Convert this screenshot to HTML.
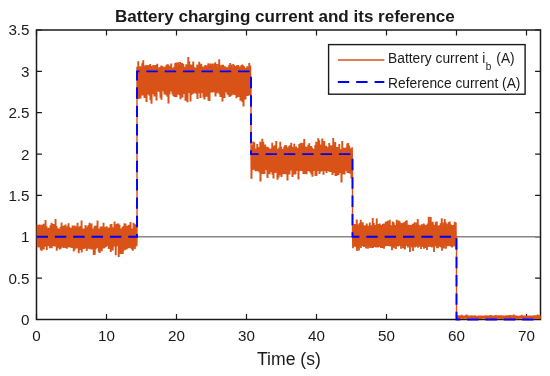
<!DOCTYPE html><html><head><meta charset="utf-8"><title>Battery charging current</title>
<style>html,body{margin:0;padding:0;background:#fff}svg{display:block}text{font-family:"Liberation Sans",Arial,sans-serif;fill:#1a1a1a}</style></head><body>
<svg width="550" height="376" viewBox="0 0 550 376">
<rect width="550" height="376" fill="#fff"/>
<rect x="36.5" y="30.0" width="504.0" height="289.5" fill="none" stroke="#1a1a1a" stroke-width="1.5"/>
<path d="M36.5 319.5 v-5.4 M36.5 30.0 v5.4 M106.5 319.5 v-5.4 M106.5 30.0 v5.4 M176.5 319.5 v-5.4 M176.5 30.0 v5.4 M246.5 319.5 v-5.4 M246.5 30.0 v5.4 M316.5 319.5 v-5.4 M316.5 30.0 v5.4 M386.5 319.5 v-5.4 M386.5 30.0 v5.4 M456.5 319.5 v-5.4 M456.5 30.0 v5.4 M526.5 319.5 v-5.4 M526.5 30.0 v5.4 M36.5 319.5 h5.4 M540.5 319.5 h-5.4 M36.5 278.1 h5.4 M540.5 278.1 h-5.4 M36.5 236.8 h5.4 M540.5 236.8 h-5.4 M36.5 195.4 h5.4 M540.5 195.4 h-5.4 M36.5 154.1 h5.4 M540.5 154.1 h-5.4 M36.5 112.7 h5.4 M540.5 112.7 h-5.4 M36.5 71.4 h5.4 M540.5 71.4 h-5.4 M36.5 30.0 h5.4 M540.5 30.0 h-5.4" stroke="#1a1a1a" stroke-width="1.2" fill="none"/>
<line x1="37.5" y1="236.8" x2="539.8" y2="236.8" stroke="#868686" stroke-width="1.4"/>
<path d="M37.3 237.3 L37.3 224.8 L37.5 247.1 L37.8 224.8 L38.0 247.1 L38.3 225.6 L38.5 247.6 L38.8 225.6 L39.0 247.6 L39.3 224.4 L39.5 245.8 L39.8 224.4 L40.0 245.8 L40.3 227.3 L40.5 249.9 L40.8 227.3 L41.0 249.9 L41.3 224.8 L41.5 250.7 L41.8 224.8 L42.0 250.7 L42.3 226.6 L42.5 247.4 L42.8 226.6 L43.0 247.4 L43.3 223.7 L43.5 249.5 L43.8 223.7 L44.0 249.5 L44.3 228.7 L44.5 246.6 L44.8 228.7 L45.0 246.6 L45.3 220.1 L45.5 246.7 L45.8 220.1 L46.0 246.7 L46.3 226.3 L46.5 250.1 L46.8 226.3 L47.0 250.1 L47.3 228.7 L47.5 246.1 L47.8 228.7 L48.0 246.1 L48.3 227.8 L48.5 245.8 L48.8 227.8 L49.0 245.8 L49.3 228.1 L49.5 248.3 L49.8 228.1 L50.0 248.3 L50.3 225.2 L50.5 246.4 L50.8 225.2 L51.0 246.4 L51.3 222.8 L51.5 248.3 L51.8 222.8 L52.0 248.3 L52.3 224.1 L52.5 246.2 L52.8 224.1 L53.0 246.2 L53.3 223.9 L53.5 245.6 L53.8 223.9 L54.0 245.6 L54.3 226.3 L54.5 246.4 L54.8 226.3 L55.0 246.4 L55.3 218.9 L55.5 245.7 L55.8 218.9 L56.0 245.7 L56.3 226.1 L56.5 250.8 L56.8 226.1 L57.0 250.8 L57.3 228.0 L57.5 248.2 L57.8 228.0 L58.0 248.2 L58.3 228.7 L58.5 247.0 L58.8 228.7 L59.0 247.0 L59.3 228.7 L59.5 249.5 L59.8 228.7 L60.0 249.5 L60.3 227.1 L60.5 248.8 L60.8 227.1 L61.0 248.8 L61.3 222.5 L61.5 247.6 L61.8 222.5 L62.0 247.6 L62.3 226.6 L62.5 245.6 L62.8 226.6 L63.0 245.6 L63.3 225.7 L63.5 247.9 L63.8 225.7 L64.0 247.9 L64.3 225.5 L64.5 246.0 L64.8 225.5 L65.0 246.0 L65.3 224.6 L65.5 248.0 L65.8 224.6 L66.0 248.0 L66.3 228.5 L66.5 248.7 L66.8 228.5 L67.0 248.7 L67.3 226.3 L67.5 247.4 L67.8 226.3 L68.0 247.4 L68.3 223.3 L68.5 247.1 L68.8 223.3 L69.0 247.1 L69.3 227.1 L69.5 247.6 L69.8 227.1 L70.0 247.6 L70.3 228.0 L70.5 246.4 L70.8 228.0 L71.0 246.4 L71.3 228.4 L71.5 247.9 L71.8 228.4 L72.0 247.9 L72.3 225.5 L72.5 247.1 L72.8 225.5 L73.0 247.1 L73.3 227.0 L73.5 251.6 L73.8 227.0 L74.0 251.6 L74.3 225.6 L74.5 249.7 L74.8 225.6 L75.0 249.7 L75.3 226.3 L75.5 248.3 L75.8 226.3 L76.0 248.3 L76.3 228.4 L76.5 248.6 L76.8 228.4 L77.0 248.6 L77.3 222.8 L77.5 246.9 L77.8 222.8 L78.0 246.9 L78.3 226.6 L78.5 253.3 L78.8 226.6 L79.0 253.3 L79.3 228.2 L79.5 249.4 L79.8 228.2 L80.0 249.4 L80.3 226.0 L80.5 250.1 L80.8 226.0 L81.0 250.1 L81.3 220.6 L81.5 252.6 L81.8 220.6 L82.0 252.6 L82.3 228.4 L82.5 248.5 L82.8 228.4 L83.0 248.5 L83.3 228.6 L83.5 249.1 L83.8 228.6 L84.0 249.1 L84.3 228.6 L84.5 247.0 L84.8 228.6 L85.0 247.0 L85.3 225.1 L85.5 248.4 L85.8 225.1 L86.0 248.4 L86.3 228.8 L86.5 250.9 L86.8 228.8 L87.0 250.9 L87.3 226.4 L87.5 248.7 L87.8 226.4 L88.0 248.7 L88.3 225.1 L88.5 246.7 L88.8 225.1 L89.0 246.7 L89.3 222.8 L89.5 249.2 L89.8 222.8 L90.0 249.2 L90.3 228.2 L90.5 247.6 L90.8 228.2 L91.0 247.6 L91.3 223.6 L91.5 249.5 L91.8 223.6 L92.0 249.5 L92.3 229.0 L92.5 248.1 L92.8 229.0 L93.0 248.1 L93.3 228.5 L93.5 255.0 L93.8 228.5 L94.0 255.0 L94.3 226.2 L94.5 254.7 L94.8 226.2 L95.0 254.7 L95.3 225.5 L95.5 249.2 L95.8 225.5 L96.0 249.2 L96.3 227.6 L96.5 246.4 L96.8 227.6 L97.0 246.4 L97.3 220.4 L97.5 248.0 L97.8 220.4 L98.0 248.0 L98.3 228.6 L98.5 251.7 L98.8 228.6 L99.0 251.7 L99.3 228.7 L99.5 252.9 L99.8 228.7 L100.0 252.9 L100.3 226.6 L100.5 247.4 L100.8 226.6 L101.0 247.4 L101.3 226.5 L101.5 251.2 L101.8 226.5 L102.0 251.2 L102.3 226.7 L102.5 246.8 L102.8 226.7 L103.0 246.8 L103.3 222.7 L103.5 248.4 L103.8 222.7 L104.0 248.4 L104.3 226.9 L104.5 247.7 L104.8 226.9 L105.0 247.7 L105.3 227.0 L105.5 246.9 L105.8 227.0 L106.0 246.9 L106.3 226.3 L106.5 245.9 L106.8 226.3 L107.0 245.9 L107.3 227.9 L107.5 246.0 L107.8 227.9 L108.0 246.0 L108.3 227.5 L108.5 249.0 L108.8 227.5 L109.0 249.0 L109.3 227.4 L109.5 246.5 L109.8 227.4 L110.0 246.5 L110.3 224.3 L110.5 251.9 L110.8 224.3 L111.0 251.9 L111.3 224.0 L111.5 246.3 L111.8 224.0 L112.0 246.3 L112.3 227.3 L112.5 250.5 L112.8 227.3 L113.0 250.5 L113.3 228.4 L113.5 246.4 L113.8 228.4 L114.0 246.4 L114.3 221.4 L114.5 246.5 L114.8 221.4 L115.0 246.5 L115.3 226.3 L115.5 255.3 L115.8 226.3 L116.0 255.3 L116.3 224.1 L116.5 246.3 L116.8 224.1 L117.0 246.3 L117.3 223.4 L117.5 246.3 L117.8 223.4 L118.0 246.3 L118.3 223.4 L118.5 257.1 L118.8 223.4 L119.0 257.1 L119.3 225.1 L119.5 247.8 L119.8 225.1 L120.0 247.8 L120.3 228.4 L120.5 254.0 L120.8 228.4 L121.0 254.0 L121.3 228.6 L121.5 251.7 L121.8 228.6 L122.0 251.7 L122.3 226.9 L122.5 254.0 L122.8 226.9 L123.0 254.0 L123.3 225.9 L123.5 250.4 L123.8 225.9 L124.0 250.4 L124.3 223.3 L124.5 250.2 L124.8 223.3 L125.0 250.2 L125.3 223.7 L125.5 249.0 L125.8 223.7 L126.0 249.0 L126.3 226.0 L126.5 249.5 L126.8 226.0 L127.0 249.5 L127.3 226.6 L127.5 248.3 L127.8 226.6 L128.1 248.3 L128.3 224.9 L128.6 248.3 L128.8 224.9 L129.1 248.3 L129.3 224.7 L129.6 248.3 L129.8 224.7 L130.1 248.3 L130.3 221.9 L130.6 245.9 L130.8 221.9 L131.1 245.9 L131.3 228.5 L131.6 249.5 L131.8 228.5 L132.1 249.5 L132.3 228.6 L132.6 250.8 L132.8 228.6 L133.1 250.8 L133.3 222.8 L133.6 248.3 L133.8 222.8 L134.1 248.3 L134.3 224.0 L134.6 248.9 L134.8 224.0 L135.1 248.9 L135.3 224.4 L135.6 246.6 L135.8 224.4 L136.1 246.6 L136.3 226.5 L136.5 245.9 L136.7 226.5 L136.8 245.9 L137.0 237.3 L137.0 79.6 L137.0 66.7 L137.2 96.9 L137.5 66.7 L137.8 96.9 L138.0 61.3 L138.2 98.9 L138.5 61.3 L138.8 98.9 L139.0 68.3 L139.2 91.8 L139.5 68.3 L139.8 91.8 L140.0 66.3 L140.2 98.6 L140.5 66.3 L140.8 98.6 L141.0 67.6 L141.2 94.1 L141.5 67.6 L141.8 94.1 L142.0 63.3 L142.2 95.4 L142.5 63.3 L142.8 95.4 L143.0 60.2 L143.2 95.0 L143.5 60.2 L143.8 95.0 L144.0 65.4 L144.2 98.0 L144.5 65.4 L144.8 98.0 L145.0 66.9 L145.2 96.4 L145.5 66.9 L145.8 96.4 L146.0 65.1 L146.2 102.1 L146.5 65.1 L146.8 102.1 L147.0 65.3 L147.2 94.6 L147.5 65.3 L147.8 94.6 L148.0 65.2 L148.2 93.3 L148.5 65.2 L148.8 93.3 L149.0 65.1 L149.2 95.7 L149.5 65.1 L149.8 95.7 L150.0 64.1 L150.2 99.9 L150.5 64.1 L150.8 99.9 L151.0 65.9 L151.2 103.7 L151.5 65.9 L151.8 103.7 L152.0 67.9 L152.2 94.2 L152.5 67.9 L152.8 94.2 L153.0 65.1 L153.2 92.3 L153.5 65.1 L153.8 92.3 L154.0 67.3 L154.2 96.4 L154.5 67.3 L154.8 96.4 L155.0 64.9 L155.2 95.4 L155.5 64.9 L155.8 95.4 L156.0 65.1 L156.2 100.4 L156.5 65.1 L156.8 100.4 L157.0 63.8 L157.2 91.6 L157.5 63.8 L157.8 91.6 L158.0 67.4 L158.2 91.6 L158.5 67.4 L158.8 91.6 L159.0 67.5 L159.2 92.1 L159.5 67.5 L159.8 92.1 L160.0 66.9 L160.2 97.7 L160.5 66.9 L160.8 97.7 L161.0 65.6 L161.2 99.8 L161.5 65.6 L161.8 99.8 L162.0 66.1 L162.2 91.3 L162.5 66.1 L162.8 91.3 L163.0 67.4 L163.2 91.3 L163.5 67.4 L163.8 91.3 L164.0 66.8 L164.2 94.4 L164.5 66.8 L164.8 94.4 L165.0 67.5 L165.2 92.3 L165.5 67.5 L165.8 92.3 L166.0 65.2 L166.2 95.2 L166.5 65.2 L166.8 95.2 L167.0 64.2 L167.2 96.7 L167.5 64.2 L167.8 96.7 L168.0 64.6 L168.2 103.6 L168.5 64.6 L168.8 103.6 L169.0 67.2 L169.2 94.2 L169.5 67.2 L169.8 94.2 L170.0 65.7 L170.2 91.5 L170.5 65.7 L170.8 91.5 L171.0 63.6 L171.2 91.4 L171.5 63.6 L171.8 91.4 L172.0 67.7 L172.2 94.3 L172.5 67.7 L172.8 94.3 L173.0 67.8 L173.2 95.9 L173.5 67.8 L173.8 95.9 L174.0 66.7 L174.2 97.1 L174.5 66.7 L174.8 97.1 L175.0 63.1 L175.2 96.9 L175.5 63.1 L175.8 96.9 L176.0 62.5 L176.2 96.9 L176.5 62.5 L176.8 96.9 L177.0 66.8 L177.2 92.2 L177.5 66.8 L177.8 92.2 L178.0 62.3 L178.2 94.5 L178.5 62.3 L178.8 94.5 L179.0 65.2 L179.2 95.3 L179.5 65.2 L179.8 95.3 L180.0 61.9 L180.2 99.3 L180.5 61.9 L180.8 99.3 L181.0 64.5 L181.2 95.8 L181.5 64.5 L181.8 95.8 L182.0 62.9 L182.2 97.6 L182.5 62.9 L182.8 97.6 L183.0 64.0 L183.2 93.0 L183.5 64.0 L183.8 93.0 L184.0 66.7 L184.2 93.9 L184.5 66.7 L184.8 93.9 L185.0 67.0 L185.2 100.7 L185.5 67.0 L185.8 100.7 L186.0 64.2 L186.2 97.6 L186.5 64.2 L186.8 97.6 L187.0 66.3 L187.2 102.2 L187.5 66.3 L187.8 102.2 L188.0 57.0 L188.2 92.8 L188.5 57.0 L188.8 92.8 L189.0 61.2 L189.2 93.1 L189.5 61.2 L189.8 93.1 L190.0 64.4 L190.2 101.6 L190.5 64.4 L190.8 101.6 L191.0 65.9 L191.2 94.9 L191.5 65.9 L191.8 94.9 L192.0 64.4 L192.2 93.8 L192.5 64.4 L192.8 93.8 L193.0 61.6 L193.2 93.8 L193.5 61.6 L193.8 93.8 L194.0 67.3 L194.2 91.1 L194.5 67.3 L194.8 91.1 L195.0 67.8 L195.2 92.8 L195.5 67.8 L195.8 92.8 L196.0 67.5 L196.2 94.1 L196.5 67.5 L196.8 94.1 L197.0 64.6 L197.2 99.1 L197.5 64.6 L197.8 99.1 L198.0 66.8 L198.2 93.3 L198.5 66.8 L198.8 93.3 L199.0 61.7 L199.2 91.9 L199.5 61.7 L199.8 91.9 L200.0 64.9 L200.2 97.9 L200.5 64.9 L200.8 97.9 L201.0 63.8 L201.2 93.1 L201.5 63.8 L201.8 93.1 L202.0 66.6 L202.2 91.7 L202.5 66.6 L202.8 91.7 L203.0 67.4 L203.2 97.4 L203.5 67.4 L203.8 97.4 L204.0 66.6 L204.2 99.4 L204.5 66.6 L204.8 99.4 L205.0 65.1 L205.2 96.0 L205.5 65.1 L205.8 96.0 L206.0 65.4 L206.2 96.7 L206.5 65.4 L206.8 96.7 L207.0 66.8 L207.2 95.8 L207.5 66.8 L207.8 95.8 L208.0 63.3 L208.2 100.5 L208.5 63.3 L208.8 100.5 L209.0 66.2 L209.2 101.1 L209.5 66.2 L209.8 101.1 L210.0 63.4 L210.2 92.3 L210.5 63.4 L210.8 92.3 L211.0 65.8 L211.2 92.6 L211.5 65.8 L211.8 92.6 L212.0 63.5 L212.2 92.4 L212.5 63.5 L212.8 92.4 L213.0 67.5 L213.2 91.7 L213.5 67.5 L213.8 91.7 L214.0 63.4 L214.2 92.2 L214.5 63.4 L214.8 92.2 L215.0 62.3 L215.2 96.6 L215.5 62.3 L215.8 96.6 L216.0 63.9 L216.2 93.4 L216.5 63.9 L216.8 93.4 L217.0 67.7 L217.2 92.8 L217.5 67.7 L217.8 92.8 L218.0 64.1 L218.2 92.3 L218.5 64.1 L218.8 92.3 L219.0 59.3 L219.2 94.2 L219.5 59.3 L219.8 94.2 L220.0 67.7 L220.2 97.0 L220.5 67.7 L220.8 97.0 L221.0 65.2 L221.2 95.1 L221.5 65.2 L221.8 95.1 L222.0 64.7 L222.2 101.5 L222.5 64.7 L222.8 101.5 L223.0 64.7 L223.2 91.7 L223.5 64.7 L223.8 91.7 L224.0 66.2 L224.2 97.9 L224.5 66.2 L224.8 97.9 L225.0 66.4 L225.2 92.2 L225.5 66.4 L225.8 92.2 L226.0 68.1 L226.2 92.1 L226.5 68.1 L226.8 92.1 L227.0 67.3 L227.2 94.6 L227.5 67.3 L227.8 94.6 L228.0 66.9 L228.2 95.3 L228.5 66.9 L228.8 95.3 L229.0 64.8 L229.2 96.9 L229.5 64.8 L229.8 96.9 L230.0 63.0 L230.2 96.3 L230.5 63.0 L230.8 96.3 L231.0 64.8 L231.2 95.4 L231.5 64.8 L231.8 95.4 L232.0 68.3 L232.2 94.5 L232.5 68.3 L232.8 94.5 L233.0 63.9 L233.2 92.1 L233.5 63.9 L233.8 92.1 L234.0 65.3 L234.2 94.9 L234.5 65.3 L234.8 94.9 L235.0 65.9 L235.2 91.5 L235.5 65.9 L235.8 91.5 L236.0 66.6 L236.2 98.2 L236.5 66.6 L236.8 98.2 L237.0 65.0 L237.2 96.0 L237.5 65.0 L237.8 96.0 L238.0 64.9 L238.2 96.9 L238.5 64.9 L238.8 96.9 L239.0 66.4 L239.2 94.0 L239.5 66.4 L239.8 94.0 L240.0 67.9 L240.2 100.8 L240.5 67.9 L240.8 100.8 L241.0 65.3 L241.2 93.6 L241.5 65.3 L241.8 93.6 L242.0 64.6 L242.2 102.1 L242.5 64.6 L242.8 102.1 L243.0 65.4 L243.2 106.6 L243.5 65.4 L243.8 106.6 L244.0 66.6 L244.2 92.8 L244.5 66.6 L244.8 92.8 L245.0 67.9 L245.2 99.6 L245.5 67.9 L245.8 99.6 L246.0 68.2 L246.2 93.4 L246.5 68.2 L246.8 93.4 L247.0 66.2 L247.2 95.9 L247.5 66.2 L247.8 95.9 L248.0 67.8 L248.2 93.7 L248.5 67.8 L248.8 93.7 L249.0 63.1 L249.2 95.6 L249.5 63.1 L249.8 95.6 L250.0 65.5 L250.2 91.4 L250.5 65.5 L250.8 91.4 L251.0 79.6 L251.0 159.4 L251.0 145.2 L251.2 178.8 L251.5 145.2 L251.8 178.8 L252.0 147.1 L252.2 170.0 L252.5 147.1 L252.8 170.0 L253.0 141.6 L253.2 169.8 L253.5 141.6 L253.8 169.8 L254.0 142.3 L254.2 169.7 L254.5 142.3 L254.8 169.7 L255.0 148.7 L255.2 171.2 L255.5 148.7 L255.8 171.2 L256.0 148.4 L256.2 170.3 L256.5 148.4 L256.8 170.3 L257.0 144.1 L257.2 171.3 L257.5 144.1 L257.8 171.3 L258.0 147.0 L258.2 170.6 L258.5 147.0 L258.8 170.6 L259.0 148.1 L259.2 172.4 L259.5 148.1 L259.8 172.4 L260.0 141.8 L260.2 181.4 L260.5 141.8 L260.8 181.4 L261.0 147.5 L261.2 170.5 L261.5 147.5 L261.8 170.5 L262.0 138.8 L262.2 173.9 L262.5 138.8 L262.8 173.9 L263.0 141.7 L263.2 171.4 L263.5 141.7 L263.8 171.4 L264.0 146.9 L264.2 174.1 L264.5 146.9 L264.8 174.1 L265.0 144.5 L265.2 170.0 L265.5 144.5 L265.8 170.0 L266.0 148.7 L266.2 170.0 L266.5 148.7 L266.8 170.0 L267.0 146.7 L267.2 178.1 L267.5 146.7 L267.8 178.1 L268.0 147.2 L268.2 174.2 L268.5 147.2 L268.8 174.2 L269.0 149.0 L269.2 174.3 L269.5 149.0 L269.8 174.3 L270.0 148.4 L270.2 172.2 L270.5 148.4 L270.8 172.2 L271.0 148.5 L271.2 169.6 L271.5 148.5 L271.8 169.6 L272.0 142.8 L272.2 174.7 L272.5 142.8 L272.8 174.7 L273.0 146.8 L273.2 178.4 L273.5 146.8 L273.8 178.4 L274.0 146.1 L274.2 173.0 L274.5 146.1 L274.8 173.0 L275.0 144.9 L275.2 172.8 L275.5 144.9 L275.8 172.8 L276.0 141.0 L276.2 170.4 L276.5 141.0 L276.8 170.4 L277.0 148.8 L277.2 179.7 L277.5 148.8 L277.8 179.7 L278.0 149.1 L278.2 177.6 L278.5 149.1 L278.8 177.6 L279.0 147.5 L279.2 173.9 L279.5 147.5 L279.8 173.9 L280.0 141.8 L280.2 175.3 L280.5 141.8 L280.8 175.3 L281.0 146.7 L281.2 177.0 L281.5 146.7 L281.8 177.0 L282.0 148.9 L282.2 174.2 L282.5 148.9 L282.8 174.2 L283.0 149.1 L283.2 171.3 L283.5 149.1 L283.8 171.3 L284.0 146.5 L284.2 173.9 L284.5 146.5 L284.8 173.9 L285.0 145.0 L285.2 169.8 L285.5 145.0 L285.8 169.8 L286.0 145.2 L286.2 174.5 L286.5 145.2 L286.8 174.5 L287.0 148.1 L287.2 180.6 L287.5 148.1 L287.8 180.6 L288.0 147.2 L288.2 173.2 L288.5 147.2 L288.8 173.2 L289.0 146.1 L289.2 174.6 L289.5 146.1 L289.8 174.6 L290.0 144.9 L290.2 170.5 L290.5 144.9 L290.8 170.5 L291.0 142.7 L291.2 169.5 L291.5 142.7 L291.8 169.5 L292.0 147.0 L292.2 177.0 L292.5 147.0 L292.8 177.0 L293.0 148.4 L293.2 169.7 L293.5 148.4 L293.8 169.7 L294.0 143.7 L294.2 174.6 L294.5 143.7 L294.8 174.6 L295.0 149.2 L295.2 174.2 L295.5 149.2 L295.8 174.2 L296.0 146.5 L296.2 170.5 L296.5 146.5 L296.8 170.5 L297.0 147.9 L297.2 171.0 L297.5 147.9 L297.8 171.0 L298.0 149.3 L298.2 179.6 L298.5 149.3 L298.8 179.6 L299.0 144.1 L299.2 171.2 L299.5 144.1 L299.8 171.2 L300.0 143.5 L300.2 170.8 L300.5 143.5 L300.8 170.8 L301.0 142.8 L301.2 169.7 L301.5 142.8 L301.8 169.7 L302.0 148.7 L302.2 171.3 L302.5 148.7 L302.8 171.3 L303.0 143.0 L303.2 174.0 L303.5 143.0 L303.8 174.0 L304.0 139.1 L304.2 172.5 L304.5 139.1 L304.8 172.5 L305.0 146.6 L305.2 174.0 L305.5 146.6 L305.8 174.0 L306.0 146.7 L306.2 174.3 L306.5 146.7 L306.8 174.3 L307.0 148.1 L307.2 170.6 L307.5 148.1 L307.8 170.6 L308.0 144.8 L308.2 171.2 L308.5 144.8 L308.8 171.2 L309.0 143.2 L309.2 170.6 L309.5 143.2 L309.8 170.6 L310.0 146.8 L310.2 172.4 L310.5 146.8 L310.8 172.4 L311.0 146.0 L311.2 174.5 L311.5 146.0 L311.8 174.5 L312.0 147.8 L312.2 176.7 L312.5 147.8 L312.8 176.7 L313.0 149.1 L313.2 170.3 L313.5 149.1 L313.8 170.3 L314.0 149.3 L314.2 170.9 L314.5 149.3 L314.8 170.9 L315.0 145.1 L315.2 176.0 L315.5 145.1 L315.8 176.0 L316.0 141.7 L316.2 175.8 L316.5 141.7 L316.8 175.8 L317.0 149.3 L317.2 171.0 L317.5 149.3 L317.8 171.0 L318.0 138.2 L318.2 170.3 L318.5 138.2 L318.8 170.3 L319.0 140.3 L319.2 174.0 L319.5 140.3 L319.8 174.0 L320.0 144.6 L320.2 171.8 L320.5 144.6 L320.8 171.8 L321.0 145.9 L321.2 170.1 L321.5 145.9 L321.8 170.1 L322.0 138.6 L322.2 171.1 L322.5 138.6 L322.8 171.1 L323.0 148.5 L323.2 174.7 L323.5 148.5 L323.8 174.7 L324.0 140.9 L324.2 170.7 L324.5 140.9 L324.8 170.7 L325.0 147.5 L325.2 170.9 L325.5 147.5 L325.8 170.9 L326.0 145.7 L326.2 173.1 L326.5 145.7 L326.8 173.1 L327.0 148.9 L327.2 171.0 L327.5 148.9 L327.8 171.0 L328.0 147.0 L328.2 170.0 L328.5 147.0 L328.8 170.0 L329.0 142.9 L329.2 172.0 L329.5 142.9 L329.8 172.0 L330.0 145.9 L330.2 170.5 L330.5 145.9 L330.8 170.5 L331.0 145.2 L331.2 171.9 L331.5 145.2 L331.8 171.9 L332.0 148.4 L332.2 175.1 L332.5 148.4 L332.8 175.1 L333.0 137.9 L333.2 169.7 L333.5 137.9 L333.8 169.7 L334.0 149.0 L334.2 172.9 L334.5 149.0 L334.8 172.9 L335.0 142.0 L335.2 176.0 L335.5 142.0 L335.8 176.0 L336.0 148.0 L336.2 175.9 L336.5 148.0 L336.8 175.9 L337.0 147.0 L337.2 172.4 L337.5 147.0 L337.8 172.4 L338.0 147.0 L338.2 175.0 L338.5 147.0 L338.8 175.0 L339.0 143.9 L339.2 173.1 L339.5 143.9 L339.8 173.1 L340.0 149.3 L340.2 172.5 L340.5 149.3 L340.8 172.5 L341.0 149.3 L341.2 182.5 L341.5 149.3 L341.8 182.5 L342.0 141.1 L342.2 174.3 L342.5 141.1 L342.8 174.3 L343.0 147.8 L343.2 169.9 L343.5 147.8 L343.8 169.9 L344.0 148.7 L344.2 174.4 L344.5 148.7 L344.8 174.4 L345.0 147.8 L345.2 171.0 L345.5 147.8 L345.8 171.0 L346.0 147.6 L346.2 170.0 L346.5 147.6 L346.8 170.0 L347.0 143.4 L347.2 173.1 L347.5 143.4 L347.8 173.1 L348.0 143.1 L348.2 171.6 L348.5 143.1 L348.8 171.6 L349.0 145.7 L349.2 173.3 L349.5 145.7 L349.8 173.3 L350.0 148.3 L350.2 173.7 L350.5 148.3 L350.8 173.7 L351.0 149.1 L351.2 178.4 L351.5 149.1 L351.8 178.4 L352.0 147.3 L352.1 170.6 L352.2 147.3 L352.4 170.6 L352.5 159.4 L352.5 236.0 L352.5 224.6 L352.8 248.2 L353.0 224.6 L353.2 248.2 L353.5 226.4 L353.8 246.8 L354.0 226.4 L354.2 246.8 L354.5 223.9 L354.8 246.0 L355.0 223.9 L355.2 246.0 L355.5 225.2 L355.8 247.3 L356.0 225.2 L356.2 247.3 L356.5 219.6 L356.8 251.0 L357.0 219.6 L357.2 251.0 L357.5 224.3 L357.8 247.8 L358.0 224.3 L358.2 247.8 L358.5 226.5 L358.8 250.4 L359.0 226.5 L359.2 250.4 L359.5 223.1 L359.8 246.2 L360.0 223.1 L360.2 246.2 L360.5 219.8 L360.8 247.9 L361.0 219.8 L361.2 247.9 L361.5 225.2 L361.8 245.7 L362.0 225.2 L362.2 245.7 L362.5 222.3 L362.8 246.3 L363.0 222.3 L363.2 246.3 L363.5 225.3 L363.8 247.0 L364.0 225.3 L364.2 247.0 L364.5 226.4 L364.8 246.1 L365.0 226.4 L365.2 246.1 L365.5 225.3 L365.8 248.5 L366.0 225.3 L366.2 248.5 L366.5 223.6 L366.8 246.2 L367.0 223.6 L367.2 246.2 L367.5 225.7 L367.8 248.7 L368.0 225.7 L368.2 248.7 L368.5 226.2 L368.8 246.5 L369.0 226.2 L369.2 246.5 L369.5 222.5 L369.8 248.1 L370.0 222.5 L370.2 248.1 L370.5 225.3 L370.8 246.1 L371.0 225.3 L371.2 246.1 L371.5 225.3 L371.8 248.1 L372.0 225.3 L372.2 248.1 L372.5 218.1 L372.8 247.9 L373.0 218.1 L373.2 247.9 L373.5 222.9 L373.8 246.5 L374.0 222.9 L374.2 246.5 L374.5 225.5 L374.8 247.1 L375.0 225.5 L375.2 247.1 L375.5 225.0 L375.8 247.4 L376.0 225.0 L376.2 247.4 L376.5 218.6 L376.8 247.2 L377.0 218.6 L377.2 247.2 L377.5 226.7 L377.8 247.4 L378.0 226.7 L378.2 247.4 L378.5 224.1 L378.8 246.9 L379.0 224.1 L379.2 246.9 L379.5 223.4 L379.8 246.6 L380.0 223.4 L380.2 246.6 L380.5 224.9 L380.8 248.0 L381.0 224.9 L381.2 248.0 L381.5 225.2 L381.8 248.0 L382.0 225.2 L382.2 248.0 L382.5 223.9 L382.8 247.8 L383.0 223.9 L383.2 247.8 L383.5 223.6 L383.8 248.7 L384.0 223.6 L384.2 248.7 L384.5 224.2 L384.8 246.5 L385.0 224.2 L385.2 246.5 L385.5 221.8 L385.8 245.6 L386.0 221.8 L386.2 245.6 L386.5 221.5 L386.8 246.0 L387.0 221.5 L387.2 246.0 L387.5 220.8 L387.8 245.9 L388.0 220.8 L388.2 245.9 L388.5 226.2 L388.8 246.0 L389.0 226.2 L389.2 246.0 L389.5 219.7 L389.8 246.4 L390.0 219.7 L390.2 246.4 L390.5 225.2 L390.8 245.7 L391.0 225.2 L391.2 245.7 L391.5 226.0 L391.8 250.2 L392.0 226.0 L392.2 250.2 L392.5 221.6 L392.8 246.9 L393.0 221.6 L393.2 246.9 L393.5 222.5 L393.8 248.2 L394.0 222.5 L394.2 248.2 L394.5 224.9 L394.8 246.6 L395.0 224.9 L395.2 246.6 L395.5 225.4 L395.8 249.1 L396.0 225.4 L396.2 249.1 L396.5 219.7 L396.8 245.8 L397.0 219.7 L397.2 245.8 L397.5 223.7 L397.8 246.5 L398.0 223.7 L398.2 246.5 L398.5 220.6 L398.8 245.9 L399.0 220.6 L399.2 245.9 L399.5 221.6 L399.8 245.3 L400.0 221.6 L400.2 245.3 L400.5 225.5 L400.8 248.8 L401.0 225.5 L401.2 248.8 L401.5 223.0 L401.8 246.4 L402.0 223.0 L402.2 246.4 L402.5 223.9 L402.8 248.3 L403.0 223.9 L403.2 248.3 L403.5 222.2 L403.8 248.6 L404.0 222.2 L404.2 248.6 L404.5 222.3 L404.8 249.4 L405.0 222.3 L405.2 249.4 L405.5 221.0 L405.8 246.1 L406.0 221.0 L406.2 246.1 L406.5 220.3 L406.8 245.8 L407.0 220.3 L407.2 245.8 L407.5 225.3 L407.8 247.5 L408.0 225.3 L408.2 247.5 L408.5 224.7 L408.8 245.8 L409.0 224.7 L409.2 245.8 L409.5 226.0 L409.8 251.9 L410.0 226.0 L410.2 251.9 L410.5 224.9 L410.8 246.2 L411.0 224.9 L411.2 246.2 L411.5 225.5 L411.8 247.6 L412.0 225.5 L412.2 247.6 L412.5 223.8 L412.8 251.1 L413.0 223.8 L413.2 251.1 L413.5 223.4 L413.8 245.9 L414.0 223.4 L414.2 245.9 L414.5 222.2 L414.8 247.4 L415.0 222.2 L415.2 247.4 L415.5 226.3 L415.8 246.7 L416.0 226.3 L416.2 246.7 L416.5 222.5 L416.8 246.2 L417.0 222.5 L417.2 246.2 L417.5 218.9 L417.8 247.8 L418.0 218.9 L418.2 247.8 L418.5 224.8 L418.8 245.5 L419.0 224.8 L419.2 245.5 L419.5 225.5 L419.8 246.7 L420.0 225.5 L420.2 246.7 L420.5 226.1 L420.8 248.9 L421.0 226.1 L421.2 248.9 L421.5 224.3 L421.8 246.1 L422.0 224.3 L422.2 246.1 L422.5 225.4 L422.8 246.9 L423.0 225.4 L423.2 246.9 L423.5 223.4 L423.8 248.7 L424.0 223.4 L424.2 248.7 L424.5 224.7 L424.8 247.9 L425.0 224.7 L425.2 247.9 L425.5 224.8 L425.8 247.6 L426.0 224.8 L426.2 247.6 L426.5 226.1 L426.8 250.1 L427.0 226.1 L427.2 250.1 L427.5 223.4 L427.8 246.3 L428.0 223.4 L428.2 246.3 L428.5 216.8 L428.8 246.9 L429.0 216.8 L429.2 246.9 L429.5 223.8 L429.8 245.4 L430.0 223.8 L430.2 245.4 L430.5 217.1 L430.8 247.0 L431.0 217.1 L431.2 247.0 L431.5 225.4 L431.8 247.4 L432.0 225.4 L432.2 247.4 L432.5 221.8 L432.8 245.7 L433.0 221.8 L433.2 245.7 L433.5 224.8 L433.8 251.9 L434.0 224.8 L434.2 251.9 L434.5 225.0 L434.8 246.6 L435.0 225.0 L435.2 246.6 L435.5 222.0 L435.8 245.4 L436.0 222.0 L436.2 245.4 L436.5 221.6 L436.8 248.2 L437.0 221.6 L437.2 248.2 L437.5 225.4 L437.8 248.3 L438.0 225.4 L438.2 248.3 L438.5 225.4 L438.8 246.4 L439.0 225.4 L439.2 246.4 L439.5 225.3 L439.8 246.8 L440.0 225.3 L440.2 246.8 L440.5 223.3 L440.8 247.3 L441.0 223.3 L441.2 247.3 L441.5 218.2 L441.8 250.8 L442.0 218.2 L442.2 250.8 L442.5 226.2 L442.8 248.1 L443.0 226.2 L443.2 248.1 L443.5 222.5 L443.8 248.4 L444.0 222.5 L444.2 248.4 L444.5 219.0 L444.8 245.3 L445.0 219.0 L445.2 245.3 L445.5 222.3 L445.8 248.8 L446.0 222.3 L446.2 248.8 L446.5 223.8 L446.8 246.1 L447.0 223.8 L447.2 246.1 L447.5 226.3 L447.8 246.2 L448.0 226.3 L448.2 246.2 L448.5 222.1 L448.8 245.5 L449.0 222.1 L449.2 245.5 L449.5 221.4 L449.8 246.1 L450.0 221.4 L450.2 246.1 L450.5 224.5 L450.8 246.8 L451.0 224.5 L451.2 246.8 L451.5 225.6 L451.8 247.6 L452.0 225.6 L452.2 247.6 L452.5 225.1 L452.8 245.7 L453.0 225.1 L453.2 245.7 L453.5 225.4 L453.8 246.6 L454.0 225.4 L454.2 246.6 L454.5 221.8 L454.8 246.0 L455.0 221.8 L455.2 246.0 L455.5 222.4 L455.8 248.9 L456.0 222.4 L456.2 248.9 L456.5 236.0 L456.5 317.3 L456.5 315.8 L456.8 318.8 L457.0 315.8 L457.2 318.8 L457.5 315.6 L457.8 318.7 L458.0 315.6 L458.2 318.7 L458.5 315.2 L458.8 318.7 L459.0 315.2 L459.2 318.7 L459.5 315.5 L459.8 318.9 L460.0 315.5 L460.2 318.9 L460.5 315.6 L460.8 318.7 L461.0 315.6 L461.2 318.7 L461.5 314.7 L461.8 318.7 L462.0 314.7 L462.2 318.7 L462.5 315.6 L462.8 318.9 L463.0 315.6 L463.2 318.9 L463.5 315.5 L463.8 318.6 L464.0 315.5 L464.2 318.6 L464.5 315.9 L464.8 318.8 L465.0 315.9 L465.2 318.8 L465.5 315.4 L465.8 318.7 L466.0 315.4 L466.2 318.7 L466.5 314.5 L466.8 318.6 L467.0 314.5 L467.2 318.6 L467.5 315.8 L467.8 318.8 L468.0 315.8 L468.2 318.8 L468.5 315.6 L468.8 318.7 L469.0 315.6 L469.2 318.7 L469.5 315.5 L469.8 318.8 L470.0 315.5 L470.2 318.8 L470.5 315.8 L470.8 318.8 L471.0 315.8 L471.2 318.8 L471.5 315.4 L471.8 318.8 L472.0 315.4 L472.2 318.8 L472.5 315.9 L472.8 318.8 L473.0 315.9 L473.2 318.8 L473.5 315.9 L473.8 318.8 L474.0 315.9 L474.2 318.8 L474.5 315.3 L474.8 318.7 L475.0 315.3 L475.2 318.7 L475.5 315.9 L475.8 318.8 L476.0 315.9 L476.2 318.8 L476.5 315.8 L476.8 318.7 L477.0 315.8 L477.2 318.7 L477.5 315.8 L477.8 318.7 L478.0 315.8 L478.2 318.7 L478.5 315.6 L478.8 318.9 L479.0 315.6 L479.2 318.9 L479.5 315.7 L479.8 318.8 L480.0 315.7 L480.2 318.8 L480.5 315.6 L480.8 318.9 L481.0 315.6 L481.2 318.9 L481.5 315.6 L481.8 318.7 L482.0 315.6 L482.2 318.7 L482.5 315.8 L482.8 318.7 L483.0 315.8 L483.2 318.7 L483.5 315.8 L483.8 318.6 L484.0 315.8 L484.2 318.6 L484.5 315.5 L484.8 318.7 L485.0 315.5 L485.2 318.7 L485.5 315.2 L485.8 318.6 L486.0 315.2 L486.2 318.6 L486.5 315.8 L486.8 319.0 L487.0 315.8 L487.2 319.0 L487.5 315.6 L487.8 318.7 L488.0 315.6 L488.2 318.7 L488.5 315.9 L488.8 318.6 L489.0 315.9 L489.2 318.6 L489.5 315.3 L489.8 318.8 L490.0 315.3 L490.2 318.8 L490.5 315.1 L490.8 318.6 L491.0 315.1 L491.2 318.6 L491.5 315.6 L491.8 318.9 L492.0 315.6 L492.2 318.9 L492.5 315.5 L492.8 318.6 L493.0 315.5 L493.2 318.6 L493.5 315.5 L493.8 318.9 L494.0 315.5 L494.2 318.9 L494.5 315.6 L494.8 318.7 L495.0 315.6 L495.2 318.7 L495.5 315.1 L495.8 318.6 L496.0 315.1 L496.2 318.6 L496.5 315.6 L496.8 318.9 L497.0 315.6 L497.2 318.9 L497.5 315.5 L497.8 318.9 L498.0 315.5 L498.2 318.9 L498.5 315.4 L498.8 318.8 L499.0 315.4 L499.2 318.8 L499.5 315.6 L499.8 318.8 L500.0 315.6 L500.2 318.8 L500.5 315.4 L500.8 318.9 L501.0 315.4 L501.2 318.9 L501.5 315.3 L501.8 318.6 L502.0 315.3 L502.2 318.6 L502.5 315.7 L502.8 319.1 L503.0 315.7 L503.2 319.1 L503.5 315.6 L503.8 319.2 L504.0 315.6 L504.2 319.2 L504.5 315.7 L504.8 318.7 L505.0 315.7 L505.2 318.7 L505.5 315.6 L505.8 318.7 L506.0 315.6 L506.2 318.7 L506.5 315.3 L506.8 318.8 L507.0 315.3 L507.2 318.8 L507.5 315.4 L507.8 319.1 L508.0 315.4 L508.2 319.1 L508.5 315.6 L508.8 318.8 L509.0 315.6 L509.2 318.8 L509.5 315.0 L509.8 319.1 L510.0 315.0 L510.2 319.1 L510.5 315.2 L510.8 319.0 L511.0 315.2 L511.2 319.0 L511.5 315.3 L511.8 318.7 L512.0 315.3 L512.2 318.7 L512.5 315.6 L512.8 318.7 L513.0 315.6 L513.2 318.7 L513.5 314.6 L513.8 319.0 L514.0 314.6 L514.2 319.0 L514.5 315.7 L514.8 318.9 L515.0 315.7 L515.2 318.9 L515.5 315.3 L515.8 318.9 L516.0 315.3 L516.2 318.9 L516.5 315.7 L516.8 319.1 L517.0 315.7 L517.2 319.1 L517.5 315.9 L517.8 318.9 L518.0 315.9 L518.2 318.9 L518.5 315.8 L518.8 318.7 L519.0 315.8 L519.2 318.7 L519.5 315.8 L519.8 318.6 L520.0 315.8 L520.2 318.6 L520.5 315.6 L520.8 318.6 L521.0 315.6 L521.2 318.6 L521.5 314.8 L521.8 318.6 L522.0 314.8 L522.2 318.6 L522.5 315.7 L522.8 318.8 L523.0 315.7 L523.2 318.8 L523.5 315.6 L523.8 318.9 L524.0 315.6 L524.2 318.9 L524.5 315.5 L524.8 318.8 L525.0 315.5 L525.2 318.8 L525.5 315.9 L525.8 318.6 L526.0 315.9 L526.2 318.6 L526.5 315.8 L526.8 318.9 L527.0 315.8 L527.2 318.9 L527.5 315.6 L527.8 318.8 L528.0 315.6 L528.2 318.8 L528.5 315.7 L528.8 318.7 L529.0 315.7 L529.2 318.7 L529.5 315.6 L529.8 318.6 L530.0 315.6 L530.2 318.6 L530.5 315.5 L530.8 318.7 L531.0 315.5 L531.2 318.7 L531.5 315.9 L531.8 318.6 L532.0 315.9 L532.2 318.6 L532.5 315.8 L532.8 318.7 L533.0 315.8 L533.2 318.7 L533.5 315.3 L533.8 318.7 L534.0 315.3 L534.2 318.7 L534.5 315.4 L534.8 318.6 L535.0 315.4 L535.2 318.6 L535.5 315.4 L535.8 318.9 L536.0 315.4 L536.2 318.9 L536.5 315.9 L536.8 319.0 L537.0 315.9 L537.2 319.0 L537.5 314.5 L537.8 318.7 L538.0 314.5 L538.2 318.7 L538.5 315.4 L538.8 319.0 L539.0 315.4 L539.2 319.0 L539.5 315.5 L539.8 318.7 L540.0 315.5 L540.2 318.7 L540.5 317.3" fill="none" stroke="#D95319" stroke-width="1.4" stroke-linejoin="miter" stroke-miterlimit="2"/>
<path d="M36.5 236.8 L137.0 236.8 L137.0 71.4 L251.0 71.4 L251.0 154.1 L352.5 154.1 L352.5 236.8 L456.5 236.8 L456.5 319.5 L540.5 319.5" fill="none" stroke="#0000FF" stroke-width="1.9" stroke-dasharray="11.45 6.9"/>
<text x="36.5" y="341.2" font-size="15.2" text-anchor="middle">0</text>
<text x="106.5" y="341.2" font-size="15.2" text-anchor="middle">10</text>
<text x="176.5" y="341.2" font-size="15.2" text-anchor="middle">20</text>
<text x="246.5" y="341.2" font-size="15.2" text-anchor="middle">30</text>
<text x="316.5" y="341.2" font-size="15.2" text-anchor="middle">40</text>
<text x="386.5" y="341.2" font-size="15.2" text-anchor="middle">50</text>
<text x="456.5" y="341.2" font-size="15.2" text-anchor="middle">60</text>
<text x="526.5" y="341.2" font-size="15.2" text-anchor="middle">70</text>
<text x="29.5" y="324.9" font-size="15.2" text-anchor="end">0</text>
<text x="29.5" y="283.5" font-size="15.2" text-anchor="end">0.5</text>
<text x="29.5" y="242.2" font-size="15.2" text-anchor="end">1</text>
<text x="29.5" y="200.8" font-size="15.2" text-anchor="end">1.5</text>
<text x="29.5" y="159.5" font-size="15.2" text-anchor="end">2</text>
<text x="29.5" y="118.1" font-size="15.2" text-anchor="end">2.5</text>
<text x="29.5" y="76.8" font-size="15.2" text-anchor="end">3</text>
<text x="29.5" y="35.4" font-size="15.2" text-anchor="end">3.5</text>
<text x="288.9" y="365.2" font-size="17.6" text-anchor="middle">Time (s)</text>
<text x="284.9" y="22.2" font-size="17.05" font-weight="bold" text-anchor="middle" fill="#000">Battery charging current and its reference</text>
<rect x="328.6" y="44.6" width="196.5" height="49.6" fill="#fff" stroke="#1a1a1a" stroke-width="1.4"/>
<line x1="338" y1="60.1" x2="384.4" y2="60.1" stroke="#D95319" stroke-width="1.5"/>
<path d="M337.8 82 h11.4 M356.2 82 h11.4 M374.6 82 h9.7" stroke="#0000FF" stroke-width="1.9" fill="none"/>
<text x="388.1" y="62.9" font-size="13.78">Battery current i<tspan dy="6.7" font-size="10" dx="0.6">b</tspan><tspan dy="-6.7" font-size="13.78" dx="4.9">(A)</tspan></text>
<text x="388.1" y="87.6" font-size="13.78">Reference current (A)</text>
</svg></body></html>
